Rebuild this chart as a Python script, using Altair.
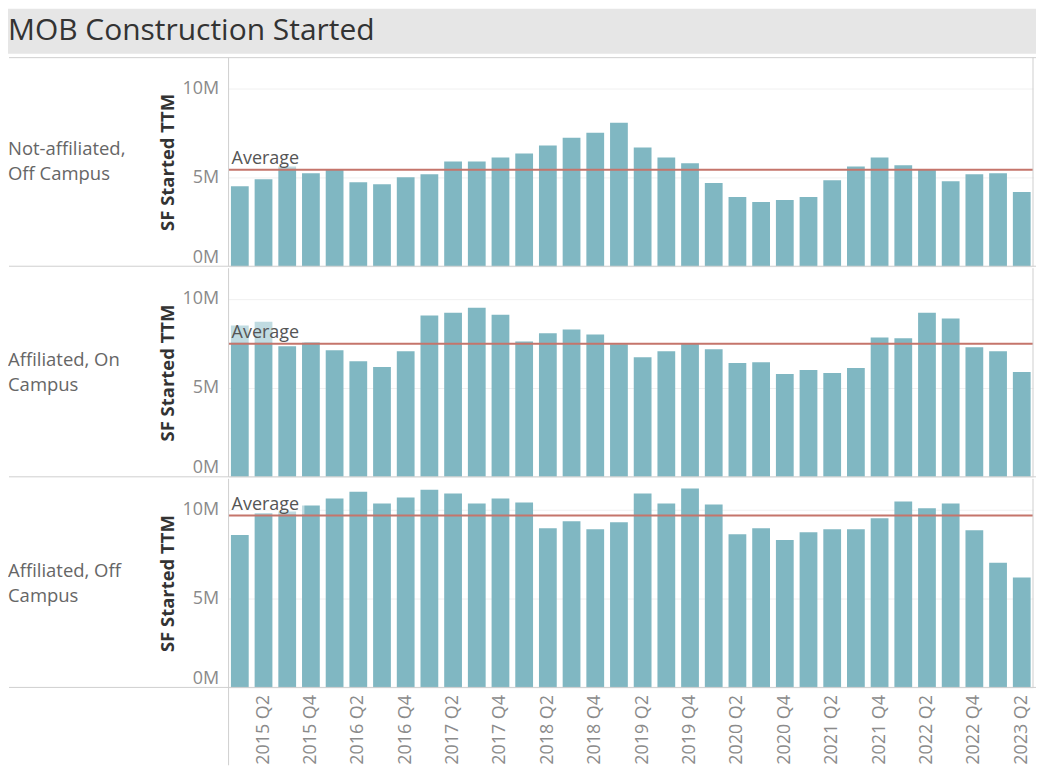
import altair as alt
import pandas as pd

TITLE = "MOB Construction Started"
Y_TITLE = "SF Started TTM"
AVG_LABEL = "Average"

QUARTERS = [
    "2015 Q1", "2015 Q2", "2015 Q3", "2015 Q4",
    "2016 Q1", "2016 Q2", "2016 Q3", "2016 Q4",
    "2017 Q1", "2017 Q2", "2017 Q3", "2017 Q4",
    "2018 Q1", "2018 Q2", "2018 Q3", "2018 Q4",
    "2019 Q1", "2019 Q2", "2019 Q3", "2019 Q4",
    "2020 Q1", "2020 Q2", "2020 Q3", "2020 Q4",
    "2021 Q1", "2021 Q2", "2021 Q3", "2021 Q4",
    "2022 Q1", "2022 Q2", "2022 Q3", "2022 Q4",
    "2023 Q1", "2023 Q2",
]

CATEGORIES = ["Not-affiliated, Off Campus", "Affiliated, On Campus", "Affiliated, Off Campus"]
ROW_LABEL_LINES = [["Not-affiliated,", "Off Campus"], ["Affiliated, On", "Campus"], ["Affiliated, Off", "Campus"]]

# SF started, trailing twelve months, in millions
NOT_AFFILIATED_OFF = [4.50, 4.89, 5.61, 5.22, 5.44, 4.72, 4.61, 5.00, 5.17, 5.89, 5.89, 6.11,
                      6.33, 6.78, 7.22, 7.50, 8.06, 6.67, 6.11, 5.78, 4.67, 3.89, 3.61, 3.72,
                      3.89, 4.83, 5.61, 6.11, 5.67, 5.44, 4.78, 5.17, 5.22, 4.17]
AFFILIATED_ON = [8.50, 8.72, 7.33, 7.55, 7.11, 6.50, 6.17, 7.06, 9.06, 9.22, 9.50, 9.11,
                 7.61, 8.06, 8.28, 8.00, 7.45, 6.72, 7.06, 7.50, 7.17, 6.39, 6.44, 5.78,
                 6.00, 5.83, 6.11, 7.83, 7.78, 9.22, 8.89, 7.28, 7.06, 5.89]
AFFILIATED_OFF = [8.56, 9.80, 9.89, 10.22, 10.61, 11.00, 10.33, 10.67, 11.11, 10.89, 10.33, 10.61,
                  10.39, 8.94, 9.33, 8.89, 9.28, 10.89, 10.33, 11.17, 10.28, 8.61, 8.94, 8.28,
                  8.72, 8.89, 8.89, 9.50, 10.44, 10.06, 10.33, 8.83, 7.00, 6.17]
SERIES = [NOT_AFFILIATED_OFF, AFFILIATED_ON, AFFILIATED_OFF]
Y_TICKS = [0, 5, 10]
Y_MAX = 11.72

FONT = "Open Sans"
BAR_COLOR = "#80b7c2"
AVG_COLOR = "#c5756b"
LINE_COLOR = "#cfcfcf"
GRID_COLOR = "#f0f0f0"
HEADER_FILL = "#e6e6e6"
TICK_LABEL_COLOR = "#8a8a8a"

W, H = 806, 209
LEFT, TOP, TOTAL_W = 220, 49, 1029

one = pd.DataFrame({"k": [0]})


def hline(y, x1, x2):
    return alt.Chart(one).mark_rule(color=LINE_COLOR, strokeWidth=1).encode(
        x=alt.value(x1), x2=alt.value(x2), y=alt.value(y))


def vline(x, y1, y2):
    return alt.Chart(one).mark_rule(color=LINE_COLOR, strokeWidth=1).encode(
        x=alt.value(x), y=alt.value(y1), y2=alt.value(y2))


def panel(i):
    last = i == 2
    df = pd.DataFrame({"quarter": QUARTERS, "sf": SERIES[i]})
    yscale = alt.Scale(domain=[0, Y_MAX], nice=False, zero=True)
    yaxis = alt.Axis(
        values=Y_TICKS, labelExpr="datum.value + 'M'", title=Y_TITLE,
        titleFontWeight="bold", titleFontSize=18.5, titleColor="#333333", titlePadding=4, titleFont=FONT,
        labelFontSize=18, labelColor=TICK_LABEL_COLOR, labelPadding=10, labelFont=FONT, labelFlush=True,
        ticks=False, domain=False, grid=True, gridColor=GRID_COLOR, gridWidth=1,
    )
    if last:
        x_axis = alt.Axis(
            labelAngle=270,
            labelExpr="(indexof(datum.value, 'Q2') >= 0 || indexof(datum.value, 'Q4') >= 0) ? datum.value : ''",
            labelFontSize=18, labelColor=TICK_LABEL_COLOR, labelPadding=7, labelFont=FONT,
            labelOverlap=False, ticks=False,
            domain=False, grid=False, title=None,
        )
    else:
        x_axis = None
    x = alt.X("quarter:N", sort=QUARTERS, title=None, axis=x_axis,
              scale=alt.Scale(paddingInner=0.25, paddingOuter=0.1))
    bars = alt.Chart(df).mark_bar(color=BAR_COLOR).encode(
        x=x, y=alt.Y("sf:Q", scale=yscale, axis=yaxis, title=Y_TITLE))
    avg_base = alt.Chart(df).transform_aggregate(avg="mean(sf)")
    yavg = alt.Y("avg:Q", scale=yscale, axis=yaxis, title=Y_TITLE)
    # translucent backing box behind the "Average" label (Tableau reference-line label style)
    label_bg = avg_base.transform_calculate(
        bg_top="datum.avg + 1.35", bg_bot="datum.avg + 0.06"
    ).mark_rect(color="white", opacity=0.5).encode(
        x=alt.value(2), x2=alt.value(76),
        y=alt.Y("bg_top:Q", scale=yscale, axis=yaxis, title=Y_TITLE), y2="bg_bot:Q")
    rule = avg_base.mark_rule(color=AVG_COLOR, strokeWidth=2).encode(y=yavg)
    avg_text = avg_base.mark_text(align="left", baseline="alphabetic", dy=-6,
                                  fontSize=18, color="#555555", font=FONT).encode(
        x=alt.value(3), y=yavg, text=alt.value(AVG_LABEL))
    lbl = []
    for j, line in enumerate(ROW_LABEL_LINES[i]):
        lbl.append(alt.Chart(one).mark_text(align="left", baseline="middle", fontSize=18.5,
                                            color="#666666", font=FONT).encode(
            x=alt.value(-LEFT - 1), y=alt.value(H / 2 - 12.5 + 25 * j), text=alt.value(line)))
    layers = [bars, label_bg, rule, avg_text] + lbl + [
              hline(H, -LEFT, TOTAL_W - LEFT),
              vline(0, 0, H + (78 if last else 0)),
              vline(W, 0, H)]
    if i == 0:
        header = alt.Chart(one).mark_rect(color=HEADER_FILL).encode(
            x=alt.value(-LEFT - 1), x2=alt.value(TOTAL_W - LEFT), y=alt.value(-TOP), y2=alt.value(-4))
        title = alt.Chart(one).mark_text(align="left", baseline="alphabetic", fontSize=30,
                                         color="#333333", font=FONT).encode(
            x=alt.value(-LEFT - 1), y=alt.value(-18), text=alt.value(TITLE))
        layers = [header, title, hline(0, -LEFT, TOTAL_W - LEFT)] + layers
    return alt.layer(*layers).properties(width=W, height=H)


chart = alt.vconcat(panel(0), panel(1), panel(2), spacing=0).properties(padding=0).configure(
    font=FONT).configure_view(stroke=None)

chart.save("out.html", embed_options={"renderer": "svg", "actions": False})
